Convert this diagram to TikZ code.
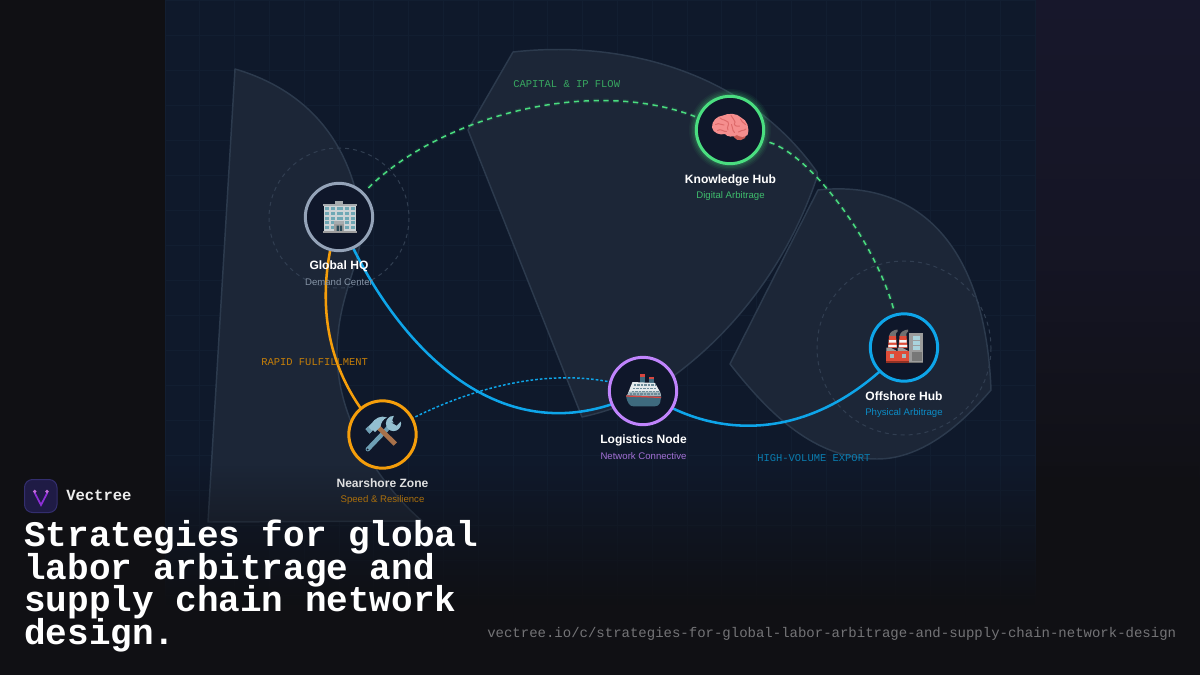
\documentclass[tikz,border=0pt]{standalone}
\usepackage{fontspec}
\setmainfont{Liberation Sans}
\setmonofont{Liberation Mono}
\usetikzlibrary{fadings,backgrounds}
\setlength{\normallineskiplimit}{-100pt}
\setlength{\lineskiplimit}{-100pt}
\definecolor{pagebg}{HTML}{101014}
\definecolor{panel}{HTML}{0F192B}
\definecolor{sidetop}{HTML}{17172B}
\definecolor{gridc}{HTML}{121E31}
\definecolor{landf}{HTML}{1C2637}
\definecolor{lands}{HTML}{2C3A4D}
\definecolor{ringc}{HTML}{313E51}
\definecolor{nodef}{HTML}{0F172A}
\definecolor{cgreen}{HTML}{4ADE80}
\definecolor{cblue}{HTML}{0EA5E9}
\definecolor{corange}{HTML}{F59E0B}
\definecolor{cpurple}{HTML}{C084FC}
\definecolor{cslate}{HTML}{94A3B8}
\definecolor{steel}{HTML}{93BFD1}
\definecolor{steeld}{HTML}{6E9FB5}
\definecolor{woodc}{HTML}{A8714A}
\definecolor{hullc}{HTML}{3E6A7E}
\definecolor{shipred}{HTML}{D8453F}
\definecolor{deckc}{HTML}{E4EAEC}
\definecolor{deckd}{HTML}{6D8C99}
\definecolor{facred}{HTML}{DF4C38}
\definecolor{facgray}{HTML}{9C9C9C}
\definecolor{facdark}{HTML}{707070}
\definecolor{paleglass}{HTML}{A9D3DC}
\definecolor{bldbody}{HTML}{CDD3D6}
\definecolor{bldwin}{HTML}{6FA8B5}
\definecolor{bldtop}{HTML}{A6ABAE}
\definecolor{brainc}{HTML}{F58E8E}
\definecolor{braind}{HTML}{DD6A6A}
\definecolor{brainb}{HTML}{C95B55}
\definecolor{logof}{HTML}{1F1B45}
\definecolor{logos}{HTML}{332E6E}
\definecolor{logov}{HTML}{8E2FD6}
\definecolor{logod}{HTML}{C26BDB}
\tikzfading[name=bottomfade,top color=transparent!100,middle color=transparent!20,bottom color=transparent!0]
\pgfdeclarelayer{shapes}
\pgfdeclarelayer{edges}
\pgfdeclarelayer{veil}
\pgfdeclarelayer{front}
\pgfsetlayers{shapes,edges,main,veil,front}
\tikzset{
  land/.style={fill=landf,draw=lands,line width=1.1pt,line join=round},
  ring/.style={draw=ringc,line width=.75pt,dash pattern=on 3pt off 3pt},
  hubc/.style={circle,draw=#1,fill=nodef,line width=2.25pt,minimum size=50.5pt,inner sep=0pt},
  hubname/.style={anchor=base,inner sep=0pt,text=white,font=\bfseries\fontsize{9.05}{11}\selectfont},
  hubsub/.style={anchor=base,inner sep=0pt,font=\fontsize{7.2}{9}\selectfont},
  flow/.style={anchor=base west,inner sep=0pt,font=\ttfamily\fontsize{7.85}{10}\selectfont},
  solidedge/.style={draw=#1,line width=1.9pt},
  greendash/.style={draw=cgreen,line width=1.1pt,dash pattern=on 4pt off 3.4pt,
     preaction={draw=cgreen,line width=3pt,draw opacity=.12,dash pattern=on 4pt off 3.4pt,shorten <=31pt,shorten >=28pt},
     shorten <=31pt,shorten >=28pt},
  bluedot/.style={draw=cblue,line width=1.1pt,dash pattern=on 2pt off 1.5pt},
}
\begin{document}
\begin{tikzpicture}[x=0.75pt,y=-0.75pt]
\useasboundingbox (0,0) rectangle (1200,675);
\begin{pgfonlayer}{shapes}
\fill[pagebg] (0,0) rectangle (1200,675);
\shade[top color=sidetop,bottom color=pagebg,middle color=sidetop!70!pagebg] (1035,0) rectangle (1200,500);
\fill[panel] (165,0) rectangle (1035,675);
\foreach \i in {0,...,25} \draw[gridc,line width=.5pt] ({165+34.8*\i},0) -- ({165+34.8*\i},675);
\foreach \i in {0,...,19} \draw[gridc,line width=.5pt] (165,{35*\i}) -- (1035,{35*\i});
% land masses
\path[land] (235,69) .. controls (300,88) and (352,135) .. (362,225)
  .. controls (362,262) and (338,295) .. (337,350)
  .. controls (336,415) and (375,480) .. (422,521) -- (208,522) -- cycle;
\path[land] (513,52) .. controls (620,40) and (745,70) .. (817,172)
  .. controls (818,175) and (817,177) .. (816,180)
  .. controls (785,270) and (725,345) .. (650,392)
  .. controls (625,405) and (605,412) .. (582,417) -- (468,130) -- cycle;
\path[land] (818,190) .. controls (910,180) and (985,235) .. (991,390)
  .. controls (965,420) and (925,459) .. (877,459)
  .. controls (815,459) and (770,415) .. (730,364) -- cycle;
\path[ring] (339,218) circle (70);
\path[ring] (904,348) circle (87);
\end{pgfonlayer}
% hubs
\node[hubc=cslate] (hq) at (339,217) {};
\node[hubc=cgreen] (kh) at (730,130) {};
\node[hubc=cpurple] (ln) at (643,391) {};
\node[hubc=corange] (nz) at (382.5,434.5) {};
\node[hubc=cblue] (oh) at (904,347.5) {};
\begin{pgfonlayer}{edges}
\foreach \r/\o in {41/.05,39.5/.07,38/.09,36.5/.12} \fill[cgreen,opacity=\o] (kh) circle (\r);
\path[solidedge=corange] (hq.center) .. controls (318,280) and (315,365) .. (nz.center);
\path[solidedge=cblue] (hq.center) .. controls (390,340) and (500,465) .. (ln.center);
\path[solidedge=cblue] (ln.center) .. controls (720,445) and (820,440) .. (oh.center);
\path[greendash] (hq.center) .. controls (440,117) and (590,76) .. (kh.center);
\path[greendash] (kh.center) .. controls (810,155) and (875,240) .. (oh.center);
\path[bluedot] (nz.center) .. controls (450,395) and (550,357) .. (ln.center);
\end{pgfonlayer}
% icon: office building
\begin{scope}[shift={(339,218)}]
\fill[bldtop] (-3.7,-17) rectangle (4.3,-13.5);
\fill[bldtop] (-16.5,-14) rectangle (17.5,-12.3);
\fill[bldbody] (-15.5,-12.3) rectangle (16.5,13);
\fill[facgray] (-16.5,12.8) rectangle (17.5,14.5);
\foreach \yy in {-11,-6,-1,3.3,8} \foreach \xx/\ww in {-14.5/4,-8.5/4,-2/5.5,5.5/4,11.5/4}
  \fill[bldwin] (\xx,\yy) rectangle ++(\ww,3.1);
\fill[facgray] (-4.7,3) rectangle (5.3,12.8);
\fill[bldtop] (-4.7,3) rectangle (5.3,5.5);
\fill[hullc!70!black] (-2.5,7.7) rectangle (-.2,12.8) (.8,7.7) rectangle (3.1,12.8);
\end{scope}
% icon: brain
\begin{scope}[shift={(730,128)}]
\fill[brainb] (3,5) .. controls (3,12) and (10,14.5) .. (15,10) -- (17,4) -- cycle;
\fill[brainc] (-18,-.5) .. controls (-18.5,-7) and (-13,-12) .. (-7,-12.5)
  .. controls (-2,-15) and (7,-15) .. (11,-10.5) .. controls (17,-8) and (20,0) .. (17.5,7)
  .. controls (14,10) and (10,9) .. (7,7) .. controls (3,9.5) and (-3,9) .. (-5,6)
  .. controls (-10,7.5) and (-17,5) .. (-18,-.5) -- cycle;
\draw[braind,line width=.75pt,line cap=round]
  (-14.5,-3.5) .. controls (-10,-6) and (-9,-2) .. (-6,-3)
  (-10,-10) .. controls (-7,-7) and (-4,-9) .. (-2,-6) .. controls (0,-3) and (-4,-1) .. (-2,2)
  (-12.5,2.5) .. controls (-9,0) and (-7,4) .. (-3.5,3.5)
  (1,-12.5) .. controls (2,-9) and (5,-9) .. (5,-6) .. controls (3,-3) and (6,-1) .. (9.5,-2)
  (1.5,-3.5) .. controls (3.5,-1) and (1.5,2) .. (4.5,4.5)
  (8.5,4) .. controls (10.5,1.5) and (13,3.5) .. (16,1)
  (10.5,-9) .. controls (10.5,-6) and (13.5,-6.5) .. (15.5,-3.5);
\end{scope}
% icon: cruise ship
\begin{scope}[shift={(643,391)}]
\fill[hullc] (-3.3,-15) rectangle (2.3,-8);
\fill[shipred] (-3.3,-17.3) rectangle (2.3,-14.5);
\fill[hullc] (5.7,-12) rectangle (10.7,-7);
\fill[shipred] (5.7,-14.5) rectangle (10.7,-11.8);
\fill[deckc] (-10.5,-9) -- (12,-8) -- (16.5,0) -- (18,5) -- (-16,5) -- (-13,-3) -- cycle;
\fill[deckd!55!deckc] (-14,0.5) -- (17,0.5) -- (18,5) -- (-16,5) -- cycle;
\foreach \yy/\xa/\xb in {-6/-9/12,-2.7/-10/14,.6/-11/15.5,3/-13/17}
  \draw[deckd,line width=.85pt,dash pattern=on 1.7pt off .9pt] (\xa,\yy) -- (\xb,\yy);
\fill[hullc] (-17,4.3) -- (18.3,5.3) -- (17,12) .. controls (16,14.5) and (14,15.3) .. (12,15.3) -- (-9.7,15.3) .. controls (-13,15.3) and (-16,12) .. (-17,4.3) -- cycle;
\draw[shipred,line width=.95pt] (-16.8,5) -- (18.2,6.4);
\end{scope}
% icon: hammer and wrench
\begin{scope}[shift={(383,433)}]
\draw[steeld,line width=3.3pt,line cap=round] (-15.2,16.2) -- (6,-6);
\fill[steel] (10.5,-9.5) circle (7.6);
\fill[nodef] (8.5,-10.5) -- (12,-20) -- (21,-15) -- (13.5,-7.5) -- cycle;
\fill[steel] (8.5,-10.5) -- (6,-13) -- (7,-16.5) -- (10.5,-10.5) -- cycle;
\fill[nodef] (-15.4,16.4) circle (1);
\draw[woodc,line width=3.5pt] (-6,-7) -- (12.3,11);
\fill[steel] (-17.5,-4) -- (-12,-9) .. controls (-8,-15) and (-2,-18) .. (4,-15.5) .. controls (0,-14) and (-2,-10) .. (-2.5,-6.5) -- (-8,-1) -- (-10,-3) -- (-13.5,.5) -- cycle;
\fill[steeld] (-17.5,-4) -- (-15,-6.4) -- (-11,-2) -- (-13.5,.5) -- cycle;
\end{scope}
% icon: factory
\begin{scope}[shift={(904,348)}]
\fill[facgray] (5,-15) rectangle (18.7,14);
\fill[facdark!85!facgray] (8,3.5) rectangle (17.5,13);
\fill[paleglass] (8.5,-12.5) rectangle (15.5,2);
\foreach \yy in {-8,-3} \draw[facgray,line width=.5pt] (8.5,\yy) -- (15.5,\yy);
\foreach \xa in {-15,-4.5} {
  \fill[facdark] (\xa,-12) .. controls (\xa+1,-16) and (\xa+4,-18) .. (\xa+8.5,-18.5) -- (\xa+8.5,-16.5) .. controls (\xa+6,-16) and (\xa+7,-13) .. (\xa+7,-12) -- cycle;
  \fill[facred] (\xa,-12) -- (\xa+7,-12) -- (\xa+8,0) -- (\xa-1,0) -- cycle;
  \fill[white!92!gray] (\xa-.2,-8) rectangle (\xa+7.2,-5.5) (\xa-.6,-3.2) rectangle (\xa+7.6,-.8);
}
\foreach \xa in {-17.7,-6.3} {
  \fill[facgray] (\xa,3) -- (\xa,-.5) -- (\xa+4,-.5) -- (\xa+11.6,3.5) -- (\xa+11.6,4) -- cycle;
  \fill[facred] (\xa,3.2) rectangle (\xa+11.6,14.5);
  \fill[paleglass!75!gray] (\xa+4,6) rectangle (\xa+8,9.5);
}
\fill[facred!65!black] (-17.7,13.3) rectangle (5.3,15);
\fill[facdark] (5,13.5) rectangle (18.7,15);
\end{scope}
% labels
\node[hubname] (hqa) at (339,269) {Global HQ};
\node[hubsub,text=cslate!90!black] (hqb) at (339,285) {Demand Center};
\node[hubname] (kha) at (730.5,183) {Knowledge Hub};
\node[hubsub,text=cgreen!85!black] (khb) at (730.5,198) {Digital Arbitrage};
\node[hubname] (lna) at (643.5,443) {Logistics Node};
\node[hubsub,text=cpurple!85!black] (lnb) at (643.5,459) {Network Connective};
\node[hubname] (nza) at (382.5,487) {Nearshore Zone};
\node[hubsub,text=corange!90!black] (nzb) at (382.5,502) {Speed \& Resilience};
\node[hubname] (oha) at (904,400) {Offshore Hub};
\node[hubsub,text=cblue!85!black] (ohb) at (904,415) {Physical Arbitrage};
\node[flow,text=cgreen!75!black] (l1) at (513,87) {CAPITAL \& IP FLOW};
\node[flow,text=corange!80!black] (l2) at (261,365) {RAPID FULFILLMENT};
\node[flow,text=cblue!75!black] (l3) at (757,461) {HIGH-VOLUME EXPORT};
\begin{pgfonlayer}{veil}
\fill[pagebg,path fading=bottomfade] (0,465) rectangle (1200,605);
\end{pgfonlayer}
\begin{pgfonlayer}{front}
\fill[pagebg] (0,604.5) rectangle (1200,675);
\path[fill=logof,draw=logos,line width=.75pt,rounded corners=6pt] (24.5,479.5) rectangle (57,512.5);
\draw[logov,line width=1.3pt,line cap=round] (34.5,492.5) -- (41,505) -- (47.5,492.5);
\fill[logod] (34.7,491.5) circle (1.9) (47,491.5) circle (1.9);
\node[anchor=base west,inner sep=0pt,text=white!93!black,font=\ttfamily\bfseries\fontsize{11.65}{14}\selectfont] (brand) at (66,500) {Vectree};
\node[anchor=north west,inner sep=0pt,align=left,text=white,font=\ttfamily\bfseries\fontsize{27}{24.3}\selectfont] (title) at (24,520) {Strategies for global\\labor arbitrage and\\supply chain network\\design.};
\node[anchor=base west,inner sep=0pt,text=white!42!pagebg,font=\ttfamily\fontsize{10.5}{13}\selectfont] (url) at (487,637) {vectree.io/c/strategies-for-global-labor-arbitrage-and-supply-chain-network-design};
\end{pgfonlayer}
\end{tikzpicture}
\end{document}
